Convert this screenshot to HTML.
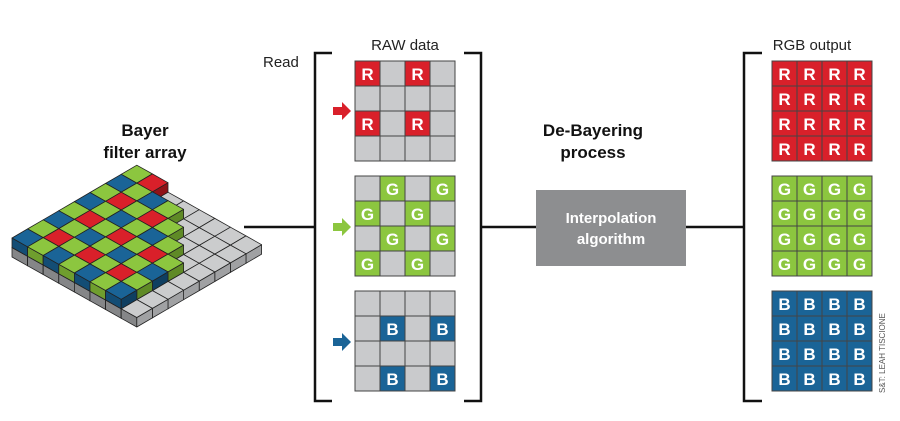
<!DOCTYPE html>
<html><head><meta charset="utf-8"><style>
html,body{margin:0;padding:0;background:#fff;}
body{width:900px;height:421px;overflow:hidden;position:relative;font-family:"Liberation Sans",sans-serif;}
</style></head><body>
<svg id="s" width="900" height="421" viewBox="0 0 900 421" xmlns="http://www.w3.org/2000/svg" style="position:absolute;left:0;top:0">
<g font-family="Liberation Sans, sans-serif">
<text x="145" y="136" font-size="17" font-weight="bold" text-anchor="middle" fill="#111">Bayer</text>
<text x="145" y="158" font-size="17" font-weight="bold" text-anchor="middle" fill="#111">filter array</text>
<text x="263" y="67" font-size="15" fill="#222">Read</text>
<text x="405" y="50" font-size="15" text-anchor="middle" fill="#222">RAW data</text>
<text x="812" y="50" font-size="15" text-anchor="middle" fill="#222">RGB output</text>
<text x="593" y="136" font-size="17" font-weight="bold" text-anchor="middle" fill="#111">De-Bayering</text>
<text x="593" y="158" font-size="17" font-weight="bold" text-anchor="middle" fill="#111">process</text>
<rect x="536" y="190" width="150" height="76" fill="#8d8e90"/>
<text x="611" y="223" font-size="15" font-weight="bold" text-anchor="middle" fill="#fff">Interpolation</text>
<text x="611" y="244" font-size="15" font-weight="bold" text-anchor="middle" fill="#fff">algorithm</text>
<text transform="translate(885,393) rotate(-90)" font-size="8" fill="#555">S&amp;T: LEAH TISCIONE</text>
</g>
<g stroke="#111" stroke-width="2.5" fill="none">
<path d="M332 53 H315 V401 H332"/>
<path d="M464 53 H481 V401 H464"/>
<path d="M762 53 H744 V401 H762"/>
<path d="M244 227 H315 M481 227 H536 M686 227 H744"/>
</g>
<g id="grids"></g>
<g id="iso"></g>
</svg>
<script>
var NS="http://www.w3.org/2000/svg";
function el(t,a,p){var e=document.createElementNS(NS,t);for(var k in a)e.setAttribute(k,a[k]);p.appendChild(e);return e;}
var G=document.getElementById("grids");
var C={R:"#d9202a",G:"#8cc63f",B:"#1a6497"};
function grid(x,y,f){
 for(var r=0;r<4;r++)for(var c=0;c<4;c++){
  var L=f(r,c);
  el("rect",{x:x+c*25,y:y+r*25,width:25,height:25,fill:L?C[L]:"#c9cacc",stroke:"#444","stroke-width":1},G);
  if(L){var t=el("text",{x:x+c*25+12.5,y:y+r*25+19,"font-size":17,"font-weight":"bold","text-anchor":"middle",fill:"#fff","font-family":"Liberation Sans, sans-serif"},G);t.textContent=L;}
 }
}
grid(355,61,function(r,c){return (r%2==0&&c%2==0)?"R":null;});
grid(355,176,function(r,c){return ((r+c)%2==1)?"G":null;});
grid(355,291,function(r,c){return (r%2==1&&c%2==1)?"B":null;});
grid(772,61,function(){return "R";});
grid(772,176,function(){return "G";});
grid(772,291,function(){return "B";});
function arrow(y,col){el("path",{d:"M333 "+(y-4)+" H342 V"+(y-9)+" L351 "+y+" L342 "+(y+9)+" V"+(y+4)+" H333 Z",fill:col},G);}
arrow(111,C.R);arrow(227,C.G);arrow(342,C.B);
var I=document.getElementById("iso");
var O=[12,257],u=[15.6,8.75],v=[15.6,-9.1],H=9.5;
function P(i,j,z){return [O[0]+i*u[0]+j*v[0],O[1]+i*u[1]+j*v[1]-z*H];}
function poly(pts,fill){el("polygon",{points:pts.map(function(p){return p[0].toFixed(1)+","+p[1].toFixed(1)}).join(" "),fill:fill,stroke:"#222","stroke-width":0.8,"stroke-linejoin":"round"},I);}
var cnt=[7,7,7,7,6,5,4,2];
function col(i,j){if((i+j)%2==1)return ["#8cc63f","#6f9e2e","#5f8a26"];return (j%2==0)?["#1a6497","#134d75","#0f3f61"]:["#d9202a","#a8161e","#8f1218"];}
function cube(i,j,z,c){
 poly([P(i,j,z+1),P(i+1,j,z+1),P(i+1,j,z),P(i,j,z)],c[1]);
 poly([P(i+1,j,z+1),P(i+1,j+1,z+1),P(i+1,j+1,z),P(i+1,j,z)],c[2]);
 poly([P(i,j,z+1),P(i+1,j,z+1),P(i+1,j+1,z+1),P(i,j+1,z+1)],c[0]);
}
var gray=["#cbcccd","#858688","#a0a1a3"];
for(var j=7;j>=0;j--)for(var i=0;i<8;i++)cube(i,j,0,gray);
for(var j=7;j>=0;j--)for(var i=0;i<8;i++)if(i<cnt[j])cube(i,j,1,col(i,j));
</script>
</body></html>
